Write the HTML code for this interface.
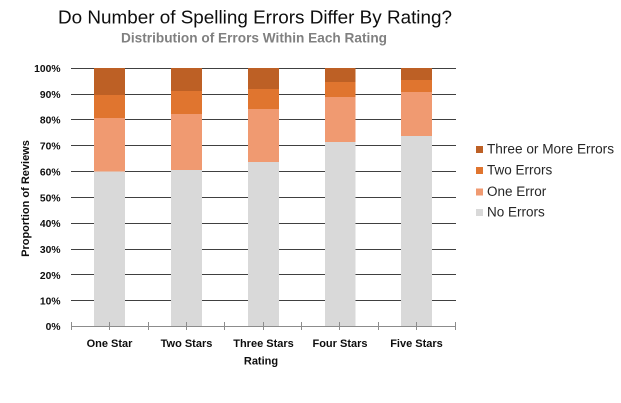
<!DOCTYPE html>
<html>
<head>
<meta charset="utf-8">
<style>
  html, body { margin:0; padding:0; background:#ffffff; }
  body { width:621px; height:403px; overflow:hidden; }
  svg { display:block; }
  text { font-family: "Liberation Sans", Arial, sans-serif; }
</style>
</head>
<body>
<svg width="621" height="403" viewBox="0 0 621 403" xmlns="http://www.w3.org/2000/svg">
  <rect x="0" y="0" width="621" height="403" fill="#ffffff"/>

  <!-- Titles -->
  <text x="58" y="23.5" font-size="18.7" fill="#0d0d0d" textLength="394" lengthAdjust="spacingAndGlyphs">Do Number of Spelling Errors Differ By Rating?</text>
  <text x="121" y="42.5" font-size="14" font-weight="bold" fill="#808080" textLength="266" lengthAdjust="spacingAndGlyphs">Distribution of Errors Within Each Rating</text>

  <!-- Gridlines -->
  <g stroke="#404040" stroke-width="1">
    <line x1="71" y1="68.5" x2="456" y2="68.5"/>
    <line x1="71" y1="94.5" x2="456" y2="94.5"/>
    <line x1="71" y1="119.5" x2="456" y2="119.5"/>
    <line x1="71" y1="145.5" x2="456" y2="145.5"/>
    <line x1="71" y1="171.5" x2="456" y2="171.5"/>
    <line x1="71" y1="197.5" x2="456" y2="197.5"/>
    <line x1="71" y1="223.5" x2="456" y2="223.5"/>
    <line x1="71" y1="249.5" x2="456" y2="249.5"/>
    <line x1="71" y1="274.5" x2="456" y2="274.5"/>
    <line x1="71" y1="300.5" x2="456" y2="300.5"/>
  </g>

  <!-- Bars -->
  <!-- One Star -->
  <rect x="94" y="68" width="31" height="27" fill="#bd6025"/>
  <rect x="94" y="95" width="31" height="23" fill="#e0752f"/>
  <rect x="94" y="118" width="31" height="53.5" fill="#f09a71"/>
  <rect x="94" y="171.5" width="31" height="154.5" fill="#d9d9d9"/>
  <!-- Two Stars -->
  <rect x="171" y="68" width="31" height="23" fill="#bd6025"/>
  <rect x="171" y="91" width="31" height="23" fill="#e0752f"/>
  <rect x="171" y="114" width="31" height="56" fill="#f09a71"/>
  <rect x="171" y="170" width="31" height="156" fill="#d9d9d9"/>
  <!-- Three Stars -->
  <rect x="248" y="68" width="31" height="21" fill="#bd6025"/>
  <rect x="248" y="89" width="31" height="20" fill="#e0752f"/>
  <rect x="248" y="109" width="31" height="53" fill="#f09a71"/>
  <rect x="248" y="162" width="31" height="164" fill="#d9d9d9"/>
  <!-- Four Stars -->
  <rect x="325" y="68" width="30.5" height="14" fill="#bd6025"/>
  <rect x="325" y="82" width="30.5" height="15" fill="#e0752f"/>
  <rect x="325" y="97" width="30.5" height="45" fill="#f09a71"/>
  <rect x="325" y="142" width="30.5" height="184" fill="#d9d9d9"/>
  <!-- Five Stars -->
  <rect x="401" y="68" width="31" height="12" fill="#bd6025"/>
  <rect x="401" y="80" width="31" height="12" fill="#e0752f"/>
  <rect x="401" y="92" width="31" height="44" fill="#f09a71"/>
  <rect x="401" y="136" width="31" height="190" fill="#d9d9d9"/>

  <!-- X axis -->
  <g stroke="#8c8c8c" stroke-width="1">
    <line x1="71" y1="326.5" x2="456" y2="326.5"/>
    <line x1="71.5" y1="322" x2="71.5" y2="330"/>
    <line x1="109.5" y1="322" x2="109.5" y2="330"/>
    <line x1="148.5" y1="322" x2="148.5" y2="330"/>
    <line x1="186.5" y1="322" x2="186.5" y2="330"/>
    <line x1="224.5" y1="322" x2="224.5" y2="330"/>
    <line x1="263.5" y1="322" x2="263.5" y2="330"/>
    <line x1="301.5" y1="322" x2="301.5" y2="330"/>
    <line x1="339.5" y1="322" x2="339.5" y2="330"/>
    <line x1="378.5" y1="322" x2="378.5" y2="330"/>
    <line x1="416.5" y1="322" x2="416.5" y2="330"/>
    <line x1="455.5" y1="322" x2="455.5" y2="330"/>
  </g>

  <!-- Y tick labels -->
  <g font-size="10.3" font-weight="bold" fill="#0d0d0d" text-anchor="end">
    <text x="60.5" y="72">100%</text>
    <text x="60.5" y="98">90%</text>
    <text x="60.5" y="123.5">80%</text>
    <text x="60.5" y="149.5">70%</text>
    <text x="60.5" y="175.5">60%</text>
    <text x="60.5" y="201.5">50%</text>
    <text x="60.5" y="227">40%</text>
    <text x="60.5" y="253">30%</text>
    <text x="60.5" y="279">20%</text>
    <text x="60.5" y="304.5">10%</text>
    <text x="60.5" y="330">0%</text>
  </g>

  <!-- Y axis title -->
  <text transform="translate(29,198.5) rotate(-90)" font-size="11" font-weight="bold" fill="#0d0d0d" text-anchor="middle">Proportion of Reviews</text>

  <!-- X tick labels -->
  <g font-size="11" font-weight="bold" fill="#0d0d0d" text-anchor="middle">
    <text x="109.5" y="347">One Star</text>
    <text x="186.5" y="347">Two Stars</text>
    <text x="263.5" y="347">Three Stars</text>
    <text x="340" y="347">Four Stars</text>
    <text x="416.5" y="347">Five Stars</text>
    <text x="261" y="364.5">Rating</text>
  </g>

  <!-- Legend -->
  <rect x="476" y="146" width="7" height="7" fill="#bd6025"/>
  <rect x="476" y="167" width="7" height="7" fill="#e0752f"/>
  <rect x="476" y="188.5" width="7" height="7" fill="#f09a71"/>
  <rect x="476" y="209" width="7" height="7" fill="#d9d9d9"/>
  <g font-size="13.5" fill="#262626">
    <text x="487" y="153.5" textLength="127" lengthAdjust="spacingAndGlyphs">Three or More Errors</text>
    <text x="487" y="174.5">Two Errors</text>
    <text x="487" y="196">One Error</text>
    <text x="487" y="216.5">No Errors</text>
  </g>
</svg>
</body>
</html>
